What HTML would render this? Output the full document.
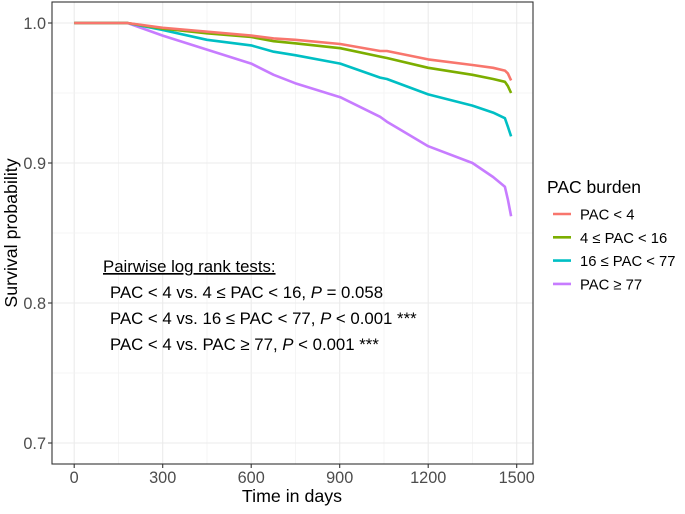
<!DOCTYPE html>
<html><head><meta charset="utf-8"><style>
body{margin:0;background:#fff;}
svg text{font-family:"Liberation Sans",Arial,sans-serif;}
</style></head><body>
<svg id="chart" width="685" height="509" xmlns="http://www.w3.org/2000/svg">
<g id="grid"></g>
<g id="curves"></g>
<rect x="52" y="2" width="481" height="462" fill="none" stroke="#333" stroke-width="1.1"/>
<g id="axes"></g>
<text x="292" y="502" font-size="17.8" text-anchor="middle" fill="#000">Time in days</text>
<text transform="translate(17,233) rotate(-90)" font-size="17.8" text-anchor="middle" fill="#000">Survival probability</text>
<g font-size="16.8" fill="#000">
<text x="103" y="272" text-decoration="underline">Pairwise log rank tests:</text>
<text x="110" y="298">PAC &lt; 4 vs. 4 ≤ PAC &lt; 16, <tspan font-style="italic">P</tspan> = 0.058</text>
<text x="110" y="324">PAC &lt; 4 vs. 16 ≤ PAC &lt; 77, <tspan font-style="italic">P</tspan> &lt; 0.001 ***</text>
<text x="110" y="350">PAC &lt; 4 vs. PAC ≥ 77, <tspan font-style="italic">P</tspan> &lt; 0.001 ***</text>
</g>
<g id="legend">
<text x="547" y="193" font-size="17.5" fill="#000">PAC burden</text>
</g>
</svg>
<script>
const seriesNames=["PAC < 4","4 ≤ PAC < 16","16 ≤ PAC < 77","PAC ≥ 77"];
const seriesColors=["#F8766D","#7CAE00","#00BFC4","#C77CFF"];
const days=[0,180,300,450,600,676,749,902,1037,1060,1200,1350,1420,1460,1470,1481];
const pacLt4=[1,1,0.9966,0.9938,0.991,0.989,0.988,0.985,0.980,0.980,0.974,0.970,0.968,0.966,0.964,0.959];
const pac4to16=[1,1,0.996,0.9926,0.990,0.987,0.9855,0.982,0.976,0.975,0.968,0.963,0.960,0.958,0.955,0.950];
const pac16to77=[1,1,0.995,0.988,0.984,0.9795,0.977,0.971,0.961,0.960,0.949,0.941,0.936,0.932,0.926,0.919];
const pacGe77=[1,1,0.991,0.981,0.971,0.963,0.957,0.947,0.933,0.9295,0.912,0.900,0.890,0.883,0.874,0.862];
const xTicks=[0,300,600,900,1200,1500];
const yTicks=[0.7,0.8,0.9,1.0];
const yTickLabels=["0.7","0.8","0.9","1.0"];
const NS="http://www.w3.org/2000/svg";
const xS=d=>74.2+d*(442.5/1500);
const yS=v=>23+(1-v)*1400;
function mk(tag,attrs,parent){const e=document.createElementNS(NS,tag);for(const k in attrs)e.setAttribute(k,attrs[k]);parent.appendChild(e);return e;}
const grid=document.getElementById('grid'),axes=document.getElementById('axes'),curves=document.getElementById('curves'),legend=document.getElementById('legend');
for(let i=0;i<xTicks.length;i++){
  const x=xS(xTicks[i]);
  const g=mk('line',{x1:x,x2:x,y1:2,y2:464,stroke:'#ebebeb','stroke-width':1.1},grid);
  
  
  if(i<xTicks.length-1){const xm=xS((xTicks[i]+xTicks[i+1])/2);
    const m=mk('line',{x1:xm,x2:xm,y1:2,y2:464,stroke:'#f3f3f3','stroke-width':0.8},grid);
    
    }
  const t=mk('line',{x1:x,x2:x,y1:464,y2:468,stroke:'#333','stroke-width':1.1},axes);
  
  
  const l=mk('text',{x:x,y:483,'font-size':16.3,'text-anchor':'middle',fill:'#4d4d4d'},axes);l.textContent=xTicks[i];
  
  
}
for(let i=0;i<yTicks.length;i++){
  const y=yS(yTicks[i]);
  const g=mk('line',{x1:52,x2:533,y1:y,y2:y,stroke:'#ebebeb','stroke-width':1.1},grid);
  
  
  if(i<yTicks.length-1){const ym=yS((yTicks[i]+yTicks[i+1])/2);
    const m=mk('line',{x1:52,x2:533,y1:ym,y2:ym,stroke:'#f3f3f3','stroke-width':0.8},grid);
    
    }
  const t=mk('line',{x1:48,x2:52,y1:y,y2:y,stroke:'#333','stroke-width':1.1},axes);
  
  
  const l=mk('text',{x:46,y:y+6,'font-size':16.3,'text-anchor':'end',fill:'#4d4d4d'},axes);l.textContent=yTickLabels[i];
  
  
}
const allSeries=[pacLt4,pac4to16,pac16to77,pacGe77];
for(let s=allSeries.length-1;s>=0;s--){
  const v=allSeries[s];let d='M'+xS(days[0])+','+yS(v[0]);
  for(let i=1;i<days.length;i++){d+=' L'+xS(days[i])+','+yS(v[i]);}
  const p=mk('path',{d:d,fill:'none',stroke:seriesColors[s],'stroke-width':2.6,'stroke-linejoin':'round'},curves);
  
  
}
for(let s=0;s<seriesNames.length;s++){
  const y=214+s*23.3;
  const k=mk('line',{x1:553,x2:571,y1:y,y2:y,stroke:seriesColors[s],'stroke-width':2.6},legend);
  
  
  const t=mk('text',{x:580,y:y+5.5,'font-size':14.8,fill:'#000'},legend);t.textContent=seriesNames[s];
  
  
}
</script>
</body></html>
